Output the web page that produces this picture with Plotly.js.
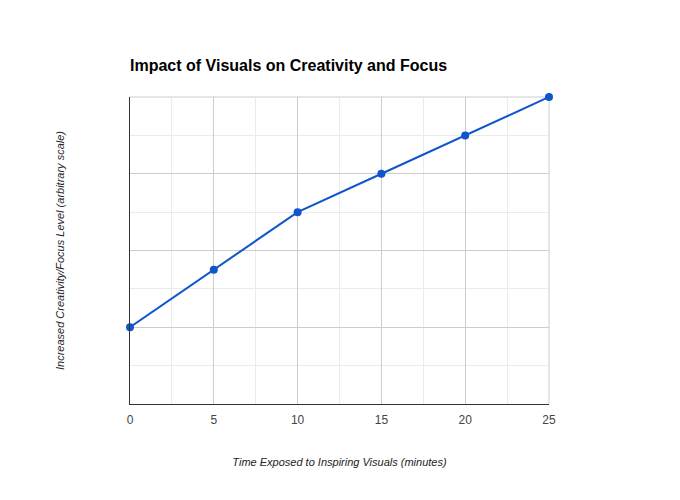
<!DOCTYPE html>
<html><head><meta charset="utf-8">
<script src="https://cdn.plot.ly/plotly-3.0.1.min.js"></script>
<style>html,body{margin:0;padding:0;background:#fff}</style>
</head><body>
<div id="chart" style="width:680px;height:500px"></div>
<script>
const timeMinutes = [0, 5, 10, 15, 20, 25];
const creativityLevel = [2, 3.5, 5, 6, 7, 8];
const xTickVals = [0, 5, 10, 15, 20, 25];

const trace = {
  x: timeMinutes, y: creativityLevel, type: 'scatter', mode: 'lines+markers',
  line: {color: '#1155cc', width: 2},
  marker: {color: '#1155cc', size: 8},
  cliponaxis: false, hoverinfo: 'x+y'
};
const layout = {
  width: 680, height: 500,
  margin: {l: 130, r: 131, t: 97, b: 96},
  paper_bgcolor: '#fff', plot_bgcolor: '#fff',
  font: {family: 'Liberation Sans, Arial, sans-serif', color: '#444'},
  title: {text: 'Impact of Visuals on Creativity and Focus', x: 0, xanchor: 'left', xref: 'paper',
          y: 1 - 71/500, yanchor: 'bottom', font: {size: 16, color: '#000', weight: 'bold'}},
  showlegend: false,
  shapes: [
    {type: 'line', xref: 'paper', yref: 'paper', x0: 0, x1: 1, y0: 1, y1: 1, line: {color: '#cccccc', width: 1}, layer: 'below'},
    {type: 'line', xref: 'paper', yref: 'paper', x0: 1, x1: 1, y0: 0, y1: 1, line: {color: '#cccccc', width: 1}, layer: 'below'}
  ],
  xaxis: {range: [0, 25], tickvals: xTickVals, ticktext: xTickVals.map(String), showgrid: true, gridcolor: '#cccccc', gridwidth: 1,
          minor: {dtick: 2.5, showgrid: true, gridcolor: '#ebebeb', gridwidth: 1},
          zeroline: false, showline: true, linecolor: '#333', linewidth: 1, ticks: '', ticklabelstandoff: 5, tickfont: {size: 12, color: '#444'},
          title: {text: 'Time Exposed to Inspiring Visuals (minutes)', font: {size: 11, color: '#222', style: 'italic'}, standoff: 31}},
  yaxis: {range: [0, 8], dtick: 2, showticklabels: false, showgrid: true, gridcolor: '#cccccc', gridwidth: 1,
          minor: {dtick: 1, showgrid: true, gridcolor: '#ebebeb', gridwidth: 1},
          zeroline: false, showline: true, linecolor: '#333', linewidth: 1, ticks: '',
          title: {text: 'Increased Creativity/Focus Level (arbitrary scale)', font: {size: 11, color: '#222', style: 'italic'}, standoff: 62}}
};
Plotly.newPlot('chart', [trace], layout, {displayModeBar: false});
</script>
</body></html>
